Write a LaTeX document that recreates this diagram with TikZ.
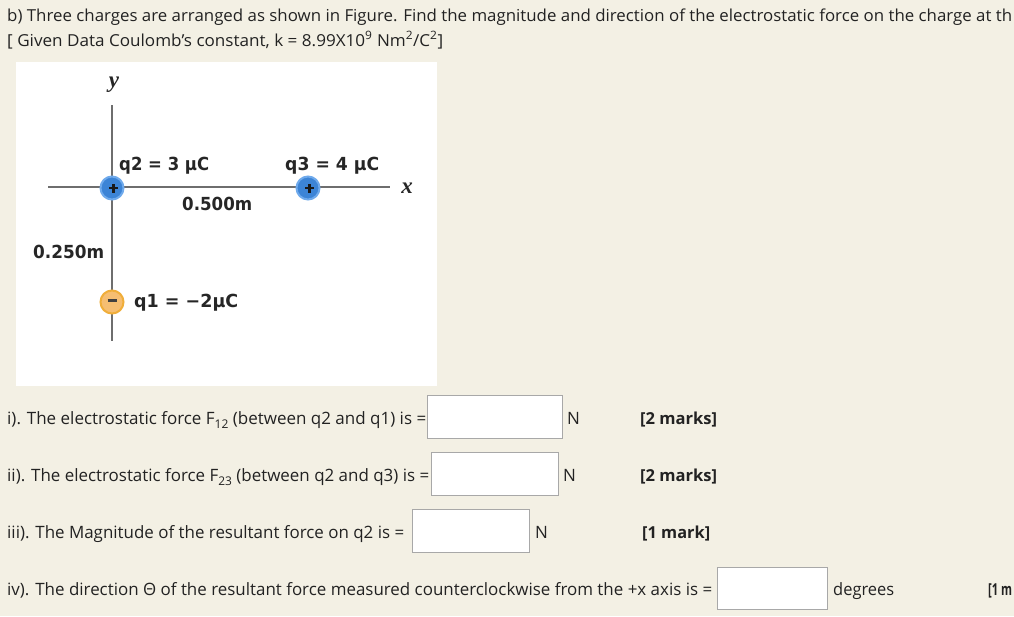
\documentclass[tikz,border=0pt]{standalone}
\usepackage{fontspec}
\usepackage{graphicx}
\setmainfont{Open Sans}
\newfontfamily\figfont{DejaVu Sans}
\newfontfamily\axfont{Liberation Serif}
\definecolor{page}{HTML}{F3F0E4}
\definecolor{ink}{HTML}{222222}
\definecolor{boxgray}{HTML}{A8A8A8}
\definecolor{axisgray}{HTML}{6E6E6E}
\definecolor{bluein}{HTML}{3C84D6}
\definecolor{blueout}{HTML}{6FAAEC}
\definecolor{orin}{HTML}{F6BE72}
\definecolor{orout}{HTML}{F0AE3A}
\newsavebox\fitbox
\newlength\fitlen
\newcommand\fitw[2]{\sbox\fitbox{#2}\setlength\fitlen{\wd\fitbox}\pgfmathsetmacro\fitsx{#1/\fitlen}\scalebox{\fitsx}[1]{\usebox\fitbox}}
\newcommand\lowsub[1]{\raisebox{-0.28em}{\fontsize{12}{12}\selectfont #1}}
\newcommand\plussign{\rule[3.3pt]{9pt}{2.4pt}\hspace{-5.7pt}\rule[0pt]{2.4pt}{9pt}\hspace{3.3pt}}
\newcommand\minussign{\rule[3.3pt]{9pt}{2.6pt}}
\tikzset{
  txt/.style={anchor=base west, inner sep=0pt, text=ink, font=\fontsize{17}{20}\selectfont},
  ttl/.style={anchor=base west, inner sep=0pt, text=ink, font=\fontsize{16.5}{20}\selectfont},
  mk/.style={anchor=base west, inner sep=0pt, text=ink, font=\bfseries\fontsize{16.5}{20}\selectfont},
  lbl/.style={anchor=base west, inner sep=0pt, text=black!85, font=\figfont\bfseries\fontsize{18}{20}\selectfont},
  axl/.style={inner sep=0pt, text=black!85, font=\axfont\bfseries\itshape\fontsize{23}{24}\selectfont},
  ansbox/.style={draw=boxgray, fill=white, line width=0.8pt, anchor=north west, inner sep=0pt},
  axisline/.style={draw=axisgray, line width=1.4pt},
  poscharge/.style={circle, inner sep=0pt, minimum size=23pt, fill=bluein, draw=blueout, line width=2pt,
     text=black!90},
  negcharge/.style={circle, inner sep=0pt, minimum size=23pt, fill=orin, draw=orout, line width=2pt,
     text=black!75},
}
\begin{document}
\begin{tikzpicture}[x=1pt,y=-1pt]
\useasboundingbox (0,0) rectangle (1014,616);
\clip (0,0) rectangle (1014,616);
\fill[page] (0,0) rectangle (1014,616);

% title
\node[ttl] (t1) at (7,21) {\fitw{1005}{b) Three charges are arranged as shown in Figure. Find the magnitude and direction of the electrostatic force on the charge at th}};
\node[ttl] (t2) at (7,46) {\fitw{436}{[ Given Data Coulomb's constant, k = 8.99X10\textsuperscript{9} Nm\textsuperscript{2}/C\textsuperscript{2}]}};

% figure panel
\fill[white] (16,62) rectangle (437,386);
\coordinate (xl) at (48,187);
\coordinate (xr) at (390,187);
\coordinate (yt) at (112,105);
\coordinate (yb) at (112,341);
\draw[axisline] (xl) -- (xr);
\draw[axisline] (yt) -- (yb);
\node[poscharge] (q2) at (112,188) {\plussign};
\node[poscharge] (q3) at (308,188) {\plussign};
\node[negcharge] (q1) at (112,302) {\minussign};
\node[axl] (ylab) at (114,85) {y};
\node[axl] (xlab) at (407,188) {x};
\node[lbl] (l2) at (119,170) {\fitw{90}{q2 = 3 μC}};
\node[lbl] (l3) at (285,170) {\fitw{94}{q3 = 4 μC}};
\node[lbl] (d1) at (182,210) {\fitw{70}{0.500m}};
\node[lbl] (d2) at (33,258) {\fitw{71}{0.250m}};
\node[lbl] (l1) at (134,307) {\fitw{104}{q1 = −2μC}};

% questions
\node[txt] (qi) at (7,424) {\fitw{419}{i). The electrostatic force F\lowsub{12} (between q2 and q1) is =}};
\node[ansbox, minimum width=135, minimum height=43] (b1) at (427,395) {};
\node[txt] (n1) at (567,424) {N};
\node[mk] (m1) at (640,424) {\fitw{77}{[2 marks]}};

\node[txt] (qii) at (7,481) {\fitw{422}{ii). The electrostatic force F\lowsub{23} (between q2 and q3) is =}};
\node[ansbox, minimum width=127, minimum height=43] (b2) at (431,452) {};
\node[txt] (n2) at (563,481) {N};
\node[mk] (m2) at (640,481) {\fitw{77}{[2 marks]}};

\node[txt] (qiii) at (7,538) {\fitw{397}{iii). The Magnitude of the resultant force on q2 is =}};
\node[ansbox, minimum width=117, minimum height=43] (b3) at (412,509) {};
\node[txt] (n3) at (535,538) {N};
\node[mk] (m3) at (642,538) {\fitw{68}{[1 mark]}};

\node[txt] (qiv) at (7,595) {\fitw{705}{iv). The direction Θ of the resultant force measured counterclockwise from the +x axis is =}};
\node[ansbox, minimum width=110, minimum height=42] (b4) at (717,567) {};
\node[txt] (deg) at (833,595) {\fitw{61}{degrees}};
\node[mk] (m4) at (988,595) {\fitw{24}{[1 m}};
\end{tikzpicture}
\end{document}
